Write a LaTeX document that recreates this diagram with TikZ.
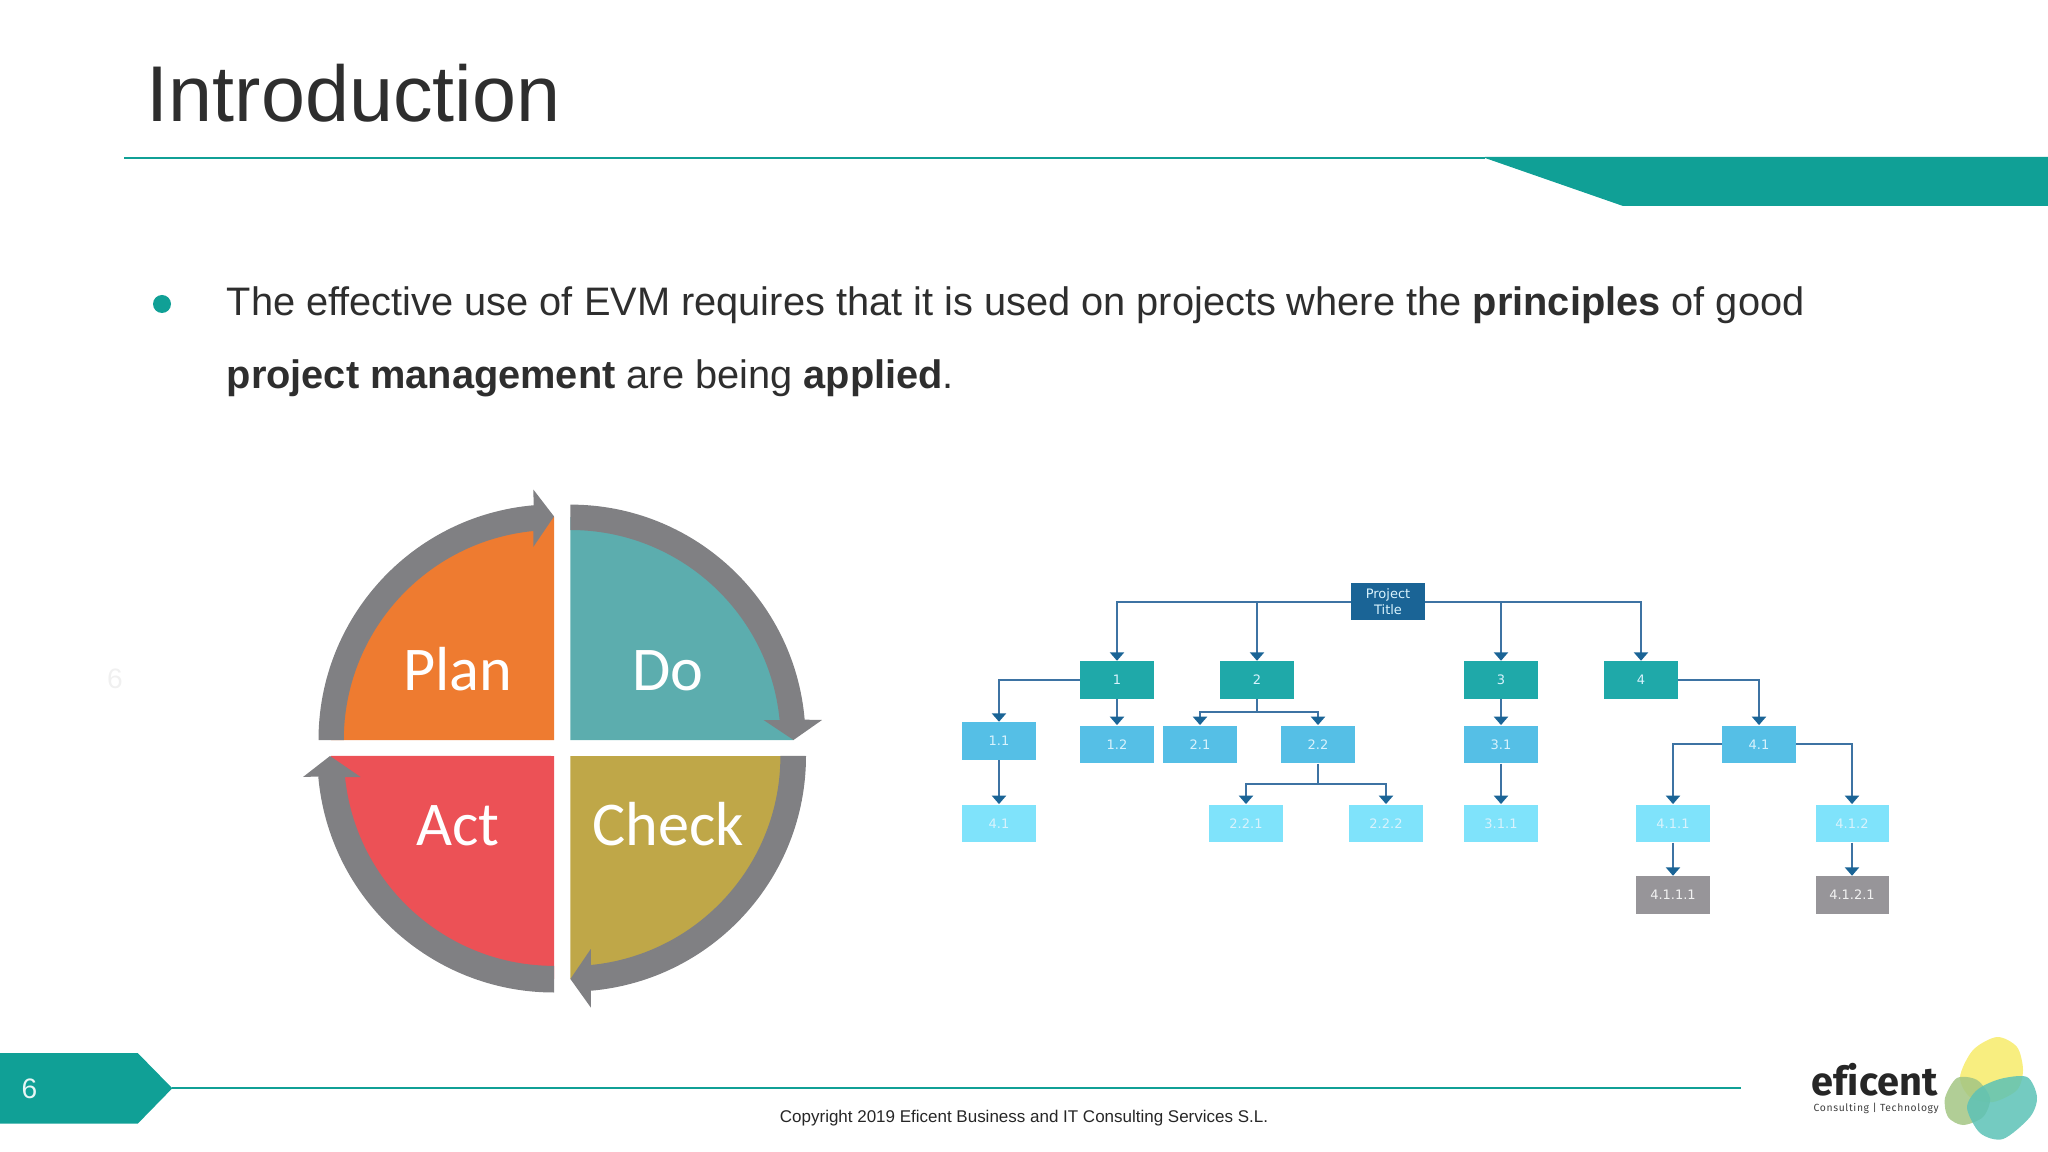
\documentclass[tikz,border=0pt]{standalone}
\usepackage{fontspec}
\usetikzlibrary{arrows.meta,positioning}
\setmainfont{Liberation Sans}
\newfontfamily\calibrifont{Carlito}
\newfontfamily\treefont{DejaVu Sans}
\newfontfamily\logofont[Ligatures=NoCommon]{Fira Sans}
\definecolor{brand}{HTML}{10A096}
\definecolor{ringgray}{HTML}{808083}
\definecolor{plancol}{HTML}{EE7B30}
\definecolor{docol}{HTML}{5CADAE}
\definecolor{checkcol}{HTML}{BFA748}
\definecolor{actcol}{HTML}{EC5156}
\definecolor{linkcol}{HTML}{3D73A3}
\definecolor{tipcol}{HTML}{1A6496}
\definecolor{onecol}{HTML}{1FA9A9}
\definecolor{twocol}{HTML}{55BFE6}
\definecolor{threecol}{HTML}{7FE3FB}
\definecolor{fourcol}{HTML}{979599}
\definecolor{blobyellow}{HTML}{F8EE80}
\definecolor{blobolive}{HTML}{A3C684}
\definecolor{blobteal}{HTML}{5CC2B6}
\tikzset{
  treebox/.style={minimum width=.73cm,minimum height=.37cm,inner sep=0pt,align=center,
    font=\treefont\fontsize{3.7}{5}\selectfont},
  topbox/.style={treebox,fill=tipcol,text=white!85!cyan},
  lvlone/.style={treebox,fill=onecol,text=white!85!cyan},
  lvltwo/.style={treebox,fill=twocol,text=white!85!cyan},
  lvlthree/.style={treebox,fill=threecol,text=white!85!cyan},
  lvlfour/.style={treebox,fill=fourcol,text=white!90!gray},
  link/.style={draw=linkcol,line width=.55pt,-{Triangle[width=4pt,length=2.4pt,color=tipcol]}},
  stem/.style={draw=linkcol,line width=.55pt},
  pdca/.style={font=\calibrifont\fontsize{17.7}{20}\selectfont,text=white,anchor=base,inner sep=0pt},
  textline/.style={anchor=base west,inner sep=0pt,text=black!82,font=\fontsize{11.31}{13}\selectfont}
}
\begin{document}
\begin{tikzpicture}[x=0.01cm,y=-0.01cm]
  \useasboundingbox (0,0) rectangle (2048,1152);
  % header
  \node[anchor=base west,inner sep=0pt,text=black!82,font=\fontsize{22.5}{26}\selectfont] (title) at (146,122) {Introduction};
  \coordinate (headstart) at (124,158);
  \coordinate (headend) at (1485,158);
  \draw[brand,line width=.6pt] (headstart) -- (headend);
  \fill[brand] (headend) -- (1623,206) -- (2048,206) -- (2048,157) -- (1485,157) -- cycle;
  % body text
  \fill[brand] (162,304) circle (9);
  \node[textline] (lineone) at (226,316) {The effective use of EVM requires that it is used on projects where the \textbf{principles} of good};
  \node[textline] (linetwo) at (226,389) {\textbf{project management} are being \textbf{applied}.};
  \node[anchor=base,text=black!6,font=\fontsize{8}{10}\selectfont,inner sep=0pt] (ghostnum) at (115,689) {6};
  % pdca wheel
  \fill[plancol] (554,740) -- (331,740) arc[start angle=180,end angle=90,radius=2.23cm] -- cycle;
  \fill[docol] (570.4,740) -- (570.4,517) arc[start angle=90,end angle=0,radius=2.23cm] -- cycle;
  \fill[checkcol] (570.4,756) -- (793.4,756) arc[start angle=0,end angle=-90,radius=2.23cm] -- cycle;
  \fill[actcol] (554,756) -- (554,979) arc[start angle=270,end angle=180,radius=2.23cm] -- cycle;
  \fill[ringgray] (318.5,740) arc[start angle=180,end angle=95,radius=2.355cm] -- (533.4,489.6)
    -- (554,516.4) -- (533.4,546.8) -- (533.4,531) arc[start angle=95.6,end angle=180,radius=2.1cm] -- cycle;
  \fill[ringgray] (570.4,504.6) arc[start angle=90,end angle=4.9,radius=2.35cm] -- (822,720)
    -- (793.5,740) -- (763.5,720) -- (779.6,720) arc[start angle=5.5,end angle=90,radius=2.1cm] -- cycle;
  \fill[ringgray] (806,756) arc[start angle=0,end angle=-85,radius=2.355cm] -- (590.8,1007.5)
    -- (570.4,979) -- (590.8,949) -- (590.8,965) arc[start angle=-84.4,end angle=0,radius=2.1cm] -- cycle;
  \fill[ringgray] (554,992.5) arc[start angle=270,end angle=185,radius=2.365cm] -- (303,777)
    -- (330,756) -- (360.6,777) -- (345,777) arc[start angle=185.8,end angle=270,radius=2.1cm] -- cycle;
  \node[pdca] (plan) at (458,690) {Plan};
  \node[pdca] (do) at (668,690) {Do};
  \node[pdca] (act) at (458,845) {Act};
  \node[pdca] (check) at (668,845) {Check};
  % work breakdown
  \node[topbox] (project) at (1388,601.7) {Project\\[-.3pt]Title};
  \node[lvlone] (one) at (1117,680) {1};
  \node[lvlone] (two) at (1257,680) {2};
  \node[lvlone] (three) at (1501,680) {3};
  \node[lvlone] (four) at (1641,680) {4};
  \node[lvltwo] (oneone) at (999,741) {1.1};
  \node[lvltwo] (onetwo) at (1117,744.3) {1.2};
  \node[lvltwo] (twoone) at (1200,744.3) {2.1};
  \node[lvltwo] (twotwo) at (1318,744.3) {2.2};
  \node[lvltwo] (threeone) at (1501,744.3) {3.1};
  \node[lvltwo] (fourone) at (1759,744.3) {4.1};
  \node[lvlthree] (oneoneone) at (999,823.3) {4.1};
  \node[lvlthree] (twotwoone) at (1246,823.3) {2.2.1};
  \node[lvlthree] (twotwotwo) at (1386,823.3) {2.2.2};
  \node[lvlthree] (threeoneone) at (1501,823.3) {3.1.1};
  \node[lvlthree] (fouroneone) at (1673,823.3) {4.1.1};
  \node[lvlthree] (fouronetwo) at (1852,823.3) {4.1.2};
  \node[lvlfour] (leafa) at (1673,895) {4.1.1.1};
  \node[lvlfour] (leafb) at (1852,895) {4.1.2.1};
  \coordinate (twojoin) at (1257,712.3);
  \coordinate (twotwojoin) at (1318,784);
  \draw[link] (project.west) -| (one.north);
  \draw[link] (project.west) -| (two.north);
  \draw[link] (project.east) -| (three.north);
  \draw[link] (project.east) -| (four.north);
  \draw[link] (one.west) -| (oneone.north);
  \draw[link] (one.south) -- (onetwo.north);
  \draw[stem] (two.south) -- (twojoin);
  \draw[link] (twojoin) -| (twoone.north);
  \draw[link] (twojoin) -| (twotwo.north);
  \draw[link] (three.south) -- (threeone.north);
  \draw[link] (four.east) -| (fourone.north);
  \draw[link] (oneone.south) -- (oneoneone.north);
  \draw[stem] (twotwo.south) -- (twotwojoin);
  \draw[link] (twotwojoin) -| (twotwoone.north);
  \draw[link] (twotwojoin) -| (twotwotwo.north);
  \draw[link] (threeone.south) -- (threeoneone.north);
  \draw[link] (fourone.west) -| (fouroneone.north);
  \draw[link] (fourone.east) -| (fouronetwo.north);
  \draw[link] (fouroneone.south) -- (leafa.north);
  \draw[link] (fouronetwo.south) -- (leafb.north);
  % footer
  \fill[brand] (0,1053) -- (137.7,1053) -- (172.3,1088.3) -- (137.7,1123.7) -- (0,1123.7) -- cycle;
  \node[anchor=base,text=white!90!brand,font=\fontsize{8}{10}\selectfont,inner sep=0pt] (pagenum) at (29.5,1098) {6};
  \coordinate (footstart) at (172,1088);
  \coordinate (footend) at (1741,1088);
  \draw[brand,line width=.6pt] (footstart) -- (footend);
  \node[anchor=base,inner sep=0pt,text=black!85,font=\fontsize{4.83}{7}\selectfont] (copyright) at (1024,1122) {Copyright 2019 Eficent Business and IT Consulting Services S.L.};
  % logo
  \fill[blobyellow] plot[smooth cycle] coordinates {(1960,1077) (1973,1050) (1997,1037) (2017,1047) (2023,1070) (2017,1090) (1993,1102) (1970,1097)};
  \fill[blobolive,opacity=.85] plot[smooth cycle] coordinates {(1945,1098) (1957,1078) (1977,1080) (1990,1098) (1983,1117) (1963,1125) (1948,1117)};
  \fill[blobteal,opacity=.85] plot[smooth cycle] coordinates {(1967,1108) (1977,1090) (2000,1079) (2027,1077) (2037,1097) (2030,1117) (2003,1139) (1980,1133)};
  \node[anchor=base west,inner sep=0pt,text=black!85,font=\logofont\bfseries\fontsize{11.3}{13}\selectfont] (logoname) at (1811,1095) {ef\kern0pt icent};
  \node[anchor=base west,inner sep=0pt,text=black!75,font=\logofont\fontsize{2.95}{4}\selectfont] (logotag) at (1813,1111) {\addfontfeature{LetterSpace=6}Consulting | Technology};
\end{tikzpicture}
\end{document}
